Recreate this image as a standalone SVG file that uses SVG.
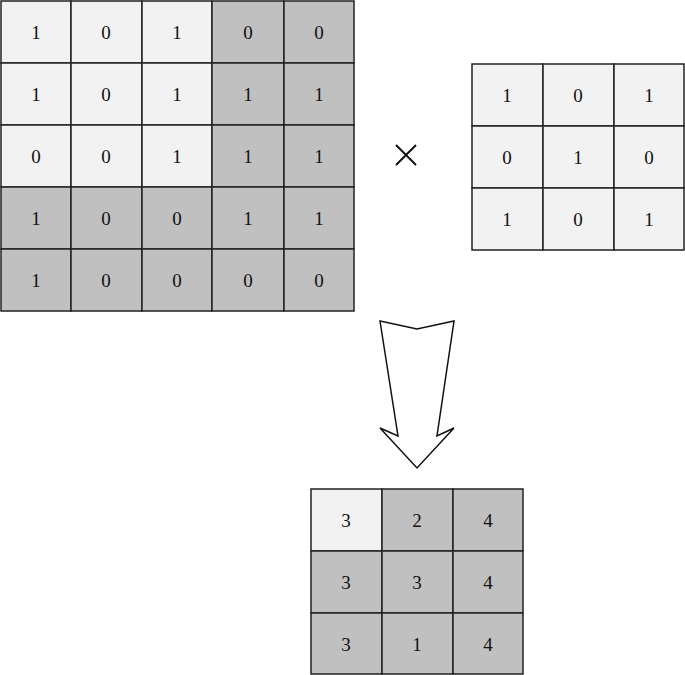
<svg xmlns="http://www.w3.org/2000/svg" width="685" height="675" viewBox="0 0 685 675">
<style>
.l{fill:#f2f2f2;stroke:#222;stroke-width:1.5}
.d{fill:#c0c0c0;stroke:#222;stroke-width:1.5}
text{font-family:"Liberation Serif",serif;font-size:19px;text-anchor:middle;dominant-baseline:central;fill:#111}
</style>
<rect width="685" height="675" fill="#fff"/>
<g id="input">
<rect class="l" x="1" y="1" width="70" height="62"/><text x="36" y="32">1</text>
<rect class="l" x="71" y="1" width="71" height="62"/><text x="106" y="32">0</text>
<rect class="l" x="142" y="1" width="70" height="62"/><text x="177" y="32">1</text>
<rect class="d" x="212" y="1" width="72" height="62"/><text x="248" y="32">0</text>
<rect class="d" x="284" y="1" width="70" height="62"/><text x="319" y="32">0</text>
<rect class="l" x="1" y="63" width="70" height="62"/><text x="36" y="94">1</text>
<rect class="l" x="71" y="63" width="71" height="62"/><text x="106" y="94">0</text>
<rect class="l" x="142" y="63" width="70" height="62"/><text x="177" y="94">1</text>
<rect class="d" x="212" y="63" width="72" height="62"/><text x="248" y="94">1</text>
<rect class="d" x="284" y="63" width="70" height="62"/><text x="319" y="94">1</text>
<rect class="l" x="1" y="125" width="70" height="62"/><text x="36" y="156">0</text>
<rect class="l" x="71" y="125" width="71" height="62"/><text x="106" y="156">0</text>
<rect class="l" x="142" y="125" width="70" height="62"/><text x="177" y="156">1</text>
<rect class="d" x="212" y="125" width="72" height="62"/><text x="248" y="156">1</text>
<rect class="d" x="284" y="125" width="70" height="62"/><text x="319" y="156">1</text>
<rect class="d" x="1" y="187" width="70" height="62"/><text x="36" y="218">1</text>
<rect class="d" x="71" y="187" width="71" height="62"/><text x="106" y="218">0</text>
<rect class="d" x="142" y="187" width="70" height="62"/><text x="177" y="218">0</text>
<rect class="d" x="212" y="187" width="72" height="62"/><text x="248" y="218">1</text>
<rect class="d" x="284" y="187" width="70" height="62"/><text x="319" y="218">1</text>
<rect class="d" x="1" y="249" width="70" height="62"/><text x="36" y="280">1</text>
<rect class="d" x="71" y="249" width="71" height="62"/><text x="106" y="280">0</text>
<rect class="d" x="142" y="249" width="70" height="62"/><text x="177" y="280">0</text>
<rect class="d" x="212" y="249" width="72" height="62"/><text x="248" y="280">0</text>
<rect class="d" x="284" y="249" width="70" height="62"/><text x="319" y="280">0</text>
</g>
<g id="times"><path d="M396,145 L416,165 M416,145 L396,165" stroke="#111" stroke-width="2"/></g>
<g id="kernel">
<rect class="l" x="472" y="64" width="71" height="62"/><text x="507" y="95">1</text>
<rect class="l" x="543" y="64" width="71" height="62"/><text x="578" y="95">0</text>
<rect class="l" x="614" y="64" width="70" height="62"/><text x="649" y="95">1</text>
<rect class="l" x="472" y="126" width="71" height="62"/><text x="507" y="157">0</text>
<rect class="l" x="543" y="126" width="71" height="62"/><text x="578" y="157">1</text>
<rect class="l" x="614" y="126" width="70" height="62"/><text x="649" y="157">0</text>
<rect class="l" x="472" y="188" width="71" height="62"/><text x="507" y="219">1</text>
<rect class="l" x="543" y="188" width="71" height="62"/><text x="578" y="219">0</text>
<rect class="l" x="614" y="188" width="70" height="62"/><text x="649" y="219">1</text>
</g>
<g id="connectors"><polygon points="380,321 417,329 454,321 437,436 454,428 417,468 380,428 398,436" fill="#fff" stroke="#111" stroke-width="1.5" stroke-linejoin="miter"/></g>
<g id="output">
<rect class="l" x="311" y="489" width="71" height="62"/><text x="346" y="520">3</text>
<rect class="d" x="382" y="489" width="71" height="62"/><text x="417" y="520">2</text>
<rect class="d" x="453" y="489" width="70" height="62"/><text x="488" y="520">4</text>
<rect class="d" x="311" y="551" width="71" height="62"/><text x="346" y="582">3</text>
<rect class="d" x="382" y="551" width="71" height="62"/><text x="417" y="582">3</text>
<rect class="d" x="453" y="551" width="70" height="62"/><text x="488" y="582">4</text>
<rect class="d" x="311" y="613" width="71" height="61"/><text x="346" y="644">3</text>
<rect class="d" x="382" y="613" width="71" height="61"/><text x="417" y="644">1</text>
<rect class="d" x="453" y="613" width="70" height="61"/><text x="488" y="644">4</text>
</g>
</svg>
